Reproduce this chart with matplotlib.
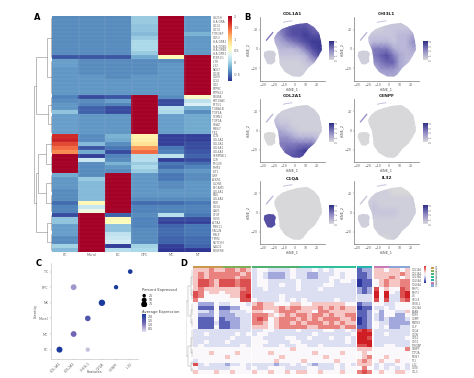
import numpy as np
import matplotlib
matplotlib.use("Agg")
import matplotlib.pyplot as plt
from matplotlib.colors import LinearSegmentedColormap
from matplotlib.patches import Polygon

W, H = 474, 378

# panel A
a_cols = ["FC", "Mural", "EC", "OPC", "MC", "NT"]
a_rows = ["CH25H", "HLA-DRA", "CD14", "CD74", "TYROBP", "CD53", "HLA-DPA1", "HLA-DQB1", "HLA-DRB1", "HLA-DPB1",
          "FCER1G", "IL7R", "IL32", "NKG7", "CD3E", "CD69", "CCL5", "CD2", "PTPRC", "PTPN22",
          "PDGFA", "KRT18AC", "PTTG1", "TUBA1B", "TOP2A", "STMN1", "TOP2A", "H2AZ", "MKI67", "TK1",
          "DCN", "COL1A2", "COL3A1", "COL5A1", "COL6A3", "SERPINE1", "C1R", "PTGDS", "MMP2", "FLT1",
          "VWF", "ACKR1", "CLDN5", "PECAM1", "COL4A1", "ENG", "COL4A2", "KDR", "CD34", "CAV1",
          "CTGF", "RGS5", "ACTA2", "MYH11", "TAGLN", "MYL9", "TPM2", "NOTCH3", "CALD1", "PDGFRB"]
a_vals = [
    [-.4, -.4, -.4, -.05, 2, -.35], [-.4, -.4, -.4, -.05, 2, -.35], [-.4, -.4, -.4, -.1, 2, -.35],
    [-.4, -.4, -.4, -.1, 2, -.35], [-.4, -.4, -.4, -.15, 2, -.2], [-.4, -.4, -.4, -.05, 2, -.35],
    [-.4, -.4, -.4, .05, 2, -.35], [-.4, -.4, -.4, .05, 2, -.35], [-.4, -.4, -.4, .05, 2, -.35],
    [-.4, -.4, -.4, -.05, 2, -.35], [-.65, -.65, -.65, -.25, .65, 2],
    [-.3, -.4, -.4, -.4, -.4, 2], [-.3, -.4, -.4, -.4, -.35, 2], [-.35, -.4, -.4, -.4, -.35, 2],
    [-.35, -.4, -.4, -.4, -.35, 2], [-.35, -.35, -.4, -.35, -.35, 2], [-.35, -.35, -.35, -.35, -.35, 2],
    [-.35, -.35, -.35, -.35, -.35, 2], [-.35, -.35, -.35, -.35, -.35, 2], [-.35, -.35, -.35, -.35, -.35, 2],
    [-.45, -.7, -.65, 2, -.4, .55], [-.4, -.4, -.3, 2, -.7, .15], [-.35, -.45, -.45, 2, -.7, .3],
    [-.35, -.6, -.7, 2, .1, -.2], [-.1, -.6, -.7, 2, .05, -.4], [-.3, -.35, -.35, 2, -.3, -.25],
    [-.3, -.35, -.35, 2, -.3, -.25], [-.3, -.35, -.35, 2, -.3, -.25], [-.3, -.35, -.35, 2, -.3, -.25],
    [-.3, -.35, -.35, 2, -.3, -.25],
    [1.75, -.4, -.2, .7, -.75, -.75], [1.8, -.4, -.25, .75, -.75, -.75], [1.6, -.15, -.4, .85, -.75, -.7],
    [1.45, -.65, -.5, 1.25, -.5, -.7], [1.3, -.25, -.7, 1.45, -.45, -.65],
    [2, -.75, -.45, .1, .15, -.6], [2, .2, -.4, .1, -.75, -.7], [2, -.4, -.2, -.05, -.5, -.55],
    [2, -.4, -.35, .05, -.55, -.45], [2, -.4, -.4, -.05, -.4, -.35],
    [-.25, -.4, 2, -.35, -.5, -.4], [-.35, -.05, 2, -.35, -.5, -.4], [-.35, -.15, 2, -.35, -.4, -.35],
    [-.35, -.15, 2, -.35, -.4, -.35], [-.4, -.15, 2, -.35, -.35, -.35], [-.4, -.15, 2, -.35, -.35, -.35],
    [-.4, -.15, 2, -.4, -.4, -.4], [-.55, .65, 2, -.55, -.55, -.5], [-.45, .2, 2, -.45, -.45, -.45],
    [-.45, .45, 2, -.45, -.45, -.45],
    [-.7, 2, -.6, -.4, .1, -.5], [-.1, 2, .65, -.45, -.7, -.7], [-.1, 2, .6, -.45, -.75, -.75],
    [-.3, 2, -.1, -.45, -.6, -.5], [-.3, 2, -.1, -.4, -.55, -.5], [-.3, 2, .15, -.4, -.55, -.5],
    [-.4, 2, .2, -.4, -.6, -.55], [-.4, 2, .25, -.4, -.6, -.55], [0, 2, -.75, 0, -.75, -.6],
    [-.15, 2, .1, .05, -.8, -.8]]
a_ticks = [2, 1.5, 1, 0.5, 0, -0.5]
# nested row clusters: (height, left, right), a pair of ints is a block of rows
a_tree = (1.0, (.88, (.3, (0, 10), (11, 19)), (.2, (20, 24), (25, 29))),
          (.88, (.8, (.35, (30, 34), (35, 39)), (.35, (40, 44), (45, 49))), (.3, (50, 54), (55, 59))))

# panel B
b_genes = ["COL1A1", "CHI3L1", "COL2A1", "CENPF", "C1QA", "IL32"]
b_xgrid = [-20, -14, -8, -2, 4, 10, 16, 22, 28]
b_ygrid = [28, 21, 14, 7, 0, -7, -14, -21, -28]
b_expr = {
    "COL1A1": ["366777666", "367888766", "457889888", "345678999", "233346899",
               "122223688", "111112344", "111111111", "111111111"],
    "CHI3L1": ["111222222", "111222222", "222223345", "233323356", "466643344",
               "467864333", "356774322", "235554322", "223443222"],
    "COL2A1": ["111111111", "111111111", "211111111", "322111111", "443211111",
               "455433321", "466666642", "357789962", "367888762"],
    "CENPF": ["000000000", "000000000", "000000000", "000000000", "000000000",
              "000000000", "000000000", "000000000", "000000000"],
    "C1QA": ["000000000", "000000000", "000000000", "000000000", "000000000",
             "000000000", "000000000", "000000000", "000000000"],
    "IL32": ["000000000", "011100000", "111111110", "121111111", "122221111",
             "111111111", "011111111", "001111110", "000011000"]}
b_small_expr = [1, 1, 0, 0, 8, 1]
b_streak_expr = [6, 3, 3, 5, 3, 2]
main_outline = [(-20.3, 11.5), (-17.2, 16.7), (-12.5, 20.2), (-4.7, 23.7), (3.1, 25.4), (10.9, 26.5), (17.8, 23),
                (21.9, 16.7), (24.4, 8), (25, -.7), (21.9, -5.9), (18.8, -12.9), (12.5, -19.9), (7.8, -26.8),
                (3.1, -29.6), (-3.1, -27.9), (-9.4, -23.3), (-14, -16.4), (-15.6, -7.7), (-16.3, -.7), (-18.8, 6.3)]
small_outline = [(-29, -3), (-25, -1.5), (-20, -2), (-18, -5), (-19, -9), (-18.5, -13), (-22, -16), (-26, -15.5),
                 (-28, -11), (-29.5, -7)]
streak_x = [-27, -24, -21]
streak_y = [9, 13, 17]
top_streak_x = [-11, -7, -3]
top_streak_y = [27.5, 28.5, 29]

# panel C
c_features = ["COL1A1", "COL2A1", "CHI3L1", "C1QA", "CENPF", "IL32"]
c_ident = ["FC", "MC", "Mural", "NK", "EPC", "TC"]
c_x = [0, 1, 1, 2, 2, 3, 4, 5]
c_y = [0, 1, 4, 0, 2, 3, 4, 5]
c_pct = [75, 70, 70, 40, 65, 85, 40, 45]
c_avg = [2.3, 1.2, .7, .3, 1.6, 2.3, 2.3, 2.3]
c_pct_legend = [25, 50, 75]
c_avg_ticks = [2.0, 1.5, 1.0, 0.5]

# panel D, one digit per cell (4 = white), gaps between the four groups
d_rows = ["COL1A1", "COL1A2", "COL3A1", "COL5A1", "COL6A1", "MMP1", "MMP3", "IL6", "CXCL8",
          "CHI3L1", "COL2A1", "ACAN", "SOX9", "COMP", "MATN3", "CILP", "C1QA", "C1QB", "CD14",
          "CD74", "TYROBP", "CENPF", "TOP2A", "MKI67", "TK1", "IL32", "CD3E", "CCL5"]
d_cells = [
    "55565566565 3443333433343434444 122 5545545",
    "56566666656 3432223433223334344 112 5555565",
    "56566666566 3432223433223344344 112 5556545",
    "57765777677 3443333343333343443 011 4565566",
    "57765777677 3443343343333443333 011 4565566",
    "56555555567 3343333343334333333 212 7454476",
    "76455455577 3333333333333333333 212 8484378",
    "76444445578 3333343333333333333 333 8483378",
    "64444444477 4333343434333334333 333 7473367",
    "42224334443 5655444554455555544 122 4433444",
    "41114112244 6655565665556565655 011 3343444",
    "43324223334 5544566655546655555 112 4244335",
    "42224222333 6665456566566565566 112 3244224",
    "41114122233 6764566656565666556 012 3232223",
    "41113112233 6654566565666565655 012 4332222",
    "41114112233 5554566666556666566 112 4342233",
    "33333333333 3344333343333443343 787 3333333",
    "33433333434 3443333333343333334 888 3343333",
    "33333334333 4433334433433343343 887 3333334",
    "33433343333 4443333443333333343 888 3333333",
    "34333333343 4433343344334333333 778 3344333",
    "44444444444 4444444544444444444 555 4444446",
    "44454444544 4445444444454444544 454 4444444",
    "44444454444 4444454444444544444 456 4454444",
    "34444444444 4444544445444445444 565 4544544",
    "73433323343 3333233434323334343 555 3433443",
    "43333334443 4334443333443334344 464 3434343",
    "54445445444 5445445455445444544 676 4544554"]
d_tree = (1.0, (.7, (.3, (0, 4), (5, 8)), (.3, (9, 12), (13, 15))), (.8, (.3, (16, 20), (21, 23)), (.3, (24, 25), (26, 27))))
d_legend_colors = ["#c99a4c", "#7fae58", "#4fb06f", "#2fbf9b", "#22b5b0", "#c77ab5", "#8aa5d8"]
d_legend_names = ["C1", "C2", "C3", "C4", "C5", "C6", "C7"]

fig = plt.figure(figsize=(W / 100, H / 100), dpi=100)


def ax_px(l, t, r, b):
    return fig.add_axes([l / W, 1 - b / H, (r - l) / W, (b - t) / H])


def draw_tree(ax, node, lw=.4, col="#8a8a8a"):
    # returns the y of this node, x is the height
    if len(node) == 2:
        mid = (node[0] + node[1] + 1) / 2
        ax.plot([.08, .08], [node[0] + .5, node[1] + .5], color=col, lw=lw)
        ax.plot([.08, 0], [mid, mid], color=col, lw=lw * .6)
        return mid, .08
    y1, h1 = draw_tree(ax, node[1], lw, col)
    y2, h2 = draw_tree(ax, node[2], lw, col)
    ax.plot([h1, node[0], node[0], h2], [y1, y1, y2, y2], color=col, lw=lw)
    return (y1 + y2) / 2, node[0]


for lab, x, y in [("A", 37, 17), ("B", 247, 17), ("C", 39, 263), ("D", 184, 263)]:
    fig.text(x / W, 1 - y / H, lab, fontsize=6, fontweight="bold", ha="center", va="center")

# A heatmap
ax = ax_px(52, 16, 211, 252)
ax.imshow(np.array(a_vals), cmap="RdYlBu_r", vmin=-.8, vmax=2, aspect="auto", interpolation="nearest",
          extent=[0, 6, 60, 0])
ax.vlines(range(1, 6), 0, 60, color="#9fb6cf", lw=.25, alpha=.6)
ax.hlines(range(1, 60), 0, 6, color="#ffffff", lw=.15, alpha=.25)
ax.set_xticks(np.arange(6) + .5, a_cols, fontsize=2.5, color="#666666")
ax.yaxis.tick_right()
ax.set_yticks(np.arange(60) + .5, a_rows, fontsize=2.1, color="#666666")
ax.tick_params(length=0, pad=1)
for s in ax.spines.values():
    s.set_visible(False)

ax = ax_px(33, 16, 52, 252)
draw_tree(ax, a_tree)
ax.set_xlim(1.05, 0)
ax.set_ylim(60, 0)
ax.axis("off")

ax = ax_px(228, 16, 232, 81)
ax.imshow(np.linspace(2, -.8, 100)[:, None], cmap="RdYlBu_r", aspect="auto", extent=[0, 1, -.8, 2], vmin=-.8, vmax=2)
ax.set_xticks([])
ax.yaxis.tick_right()
ax.set_yticks(a_ticks, [str(t) for t in a_ticks], fontsize=2.5, color="#666666")
ax.tick_params(length=0, pad=1)
for s in ax.spines.values():
    s.set_visible(False)

# B feature plots
feat = LinearSegmentedColormap.from_list("feat", ["#d8d8da", "#c4c2dc", "#a5a1cf", "#6f68b4", "#3f3c96"])
bar_cmap = LinearSegmentedColormap.from_list("bar", ["#d8d8da", "#8f89c4", "#2f2f86"])
lefts = [260, 354]
rows_px = [(17, 81), (99, 162), (181, 244)]
for i, gene in enumerate(b_genes):
    l = lefts[i % 2]
    t, b = rows_px[i // 2]
    ax = ax_px(l, t, l + 65, b)
    z = np.array([[int(c) for c in s] for s in b_expr[gene]], dtype=float)
    mesh = ax.pcolormesh(b_xgrid, b_ygrid, z, cmap=feat, vmin=0, vmax=9, shading="gouraud", rasterized=True)
    clip = Polygon(main_outline, closed=True, transform=ax.transData, fc="none", ec="none")
    ax.add_patch(clip)
    mesh.set_clip_path(clip)
    ax.add_patch(Polygon(small_outline, closed=True, fc=feat(b_small_expr[i] / 9), ec="none"))
    ax.plot(streak_x, streak_y, color=feat(b_streak_expr[i] / 9), lw=1, solid_capstyle="round")
    ax.plot(top_streak_x, top_streak_y, color=feat(3 / 9), lw=.6)
    ax.set_xlim(-33, 28)
    ax.set_ylim(-33, 33)
    ax.set_xticks([-30, -20, -10, 0, 10, 20])
    ax.set_yticks([-20, 0, 20])
    ax.tick_params(labelsize=2.3, length=.8, width=.3, pad=.6, colors="#666666")
    ax.set_xlabel("tSNE_1", fontsize=2.6, labelpad=.4, color="#555555")
    ax.set_ylabel("tSNE_2", fontsize=2.6, labelpad=.4, color="#555555")
    ax.set_title(gene, fontsize=3.2, fontweight="bold", pad=1.2, color="#222222")
    for s in ["top", "right"]:
        ax.spines[s].set_visible(False)
    for s in ["left", "bottom"]:
        ax.spines[s].set_linewidth(.5)
        ax.spines[s].set_color("#777777")
    cb = ax_px(l + 69, t + 24, l + 74, t + 43)
    cb.imshow(np.linspace(9, 0, 50)[:, None], cmap=bar_cmap, aspect="auto", extent=[0, 1, 0, 4], vmin=0, vmax=9)
    cb.set_xticks([])
    cb.yaxis.tick_right()
    cb.set_yticks([0, 1, 2, 3, 4], ["0", "1", "2", "3", "4"], fontsize=2, rotation=90, va="center", color="#666666")
    cb.tick_params(length=0, pad=.6)
    for s in cb.spines.values():
        s.set_visible(False)

# C dot plot
dots = LinearSegmentedColormap.from_list("dots", ["#e4e0f0", "#7468b4", "#1a3a9c"])
ax = ax_px(51, 263, 138, 359)
ax.scatter(c_x, c_y, s=np.array(c_pct) * .25, c=c_avg, cmap=dots, vmin=0, vmax=2.3, linewidths=0)
ax.set_xlim(-.6, 5.55)
ax.set_ylim(-.6, 5.55)
ax.set_xticks(range(6), c_features, fontsize=2.4, rotation=45, ha="right", rotation_mode="anchor", color="#666666")
ax.set_yticks(range(6), c_ident, fontsize=2.4, color="#666666")
ax.tick_params(length=1, width=.3, pad=1, color="#888888")
ax.set_ylabel("Identity", fontsize=2.6, labelpad=1, color="#555555")
fig.text(94 / W, 1 - 372 / H, "Features", fontsize=2.6, ha="center", va="center", color="#555555")
for s in ["top", "right"]:
    ax.spines[s].set_visible(False)
for s in ["left", "bottom"]:
    ax.spines[s].set_linewidth(.4)
    ax.spines[s].set_color("#bbbbbb")

fig.text(142 / W, 1 - 290.5 / H, "Percent Expressed", fontsize=2.7, va="center", color="#444444")
ax = ax_px(141, 293, 160, 307)
ax.scatter([0] * 3, [2, 1, 0], s=np.array(c_pct_legend) * .25, c="k", linewidths=0)
for n, p in enumerate(c_pct_legend):
    ax.text(.9, 2 - n, str(p), fontsize=2.3, va="center", color="#444444")
ax.set_xlim(-.6, 3)
ax.set_ylim(-.6, 2.6)
ax.axis("off")
fig.text(142 / W, 1 - 312 / H, "Average Expression", fontsize=2.7, va="center", color="#444444")
ax = ax_px(142, 314, 146, 332)
ax.imshow(np.linspace(2.3, 0, 50)[:, None], cmap=dots, aspect="auto", extent=[0, 1, 0, 2.3], vmin=0, vmax=2.3)
ax.set_xticks([])
ax.yaxis.tick_right()
ax.set_yticks(c_avg_ticks, [str(t) for t in c_avg_ticks], fontsize=2.3, color="#444444")
ax.tick_params(length=0, pad=1)
for s in ax.spines.values():
    s.set_visible(False)

# D heatmap
div = LinearSegmentedColormap.from_list("div", [(0, "#2b359c"), (.125, "#5a62b8"), (.25, "#a3a8dc"), (.375, "#dcdff2"),
                                                (.5, "#fbf9fb"), (.625, "#f6c8c6"), (.75, "#ea8380"), (1, "#cf1f25")])
groups = np.array([r.split() for r in d_cells])
seg_px = [(193, 251), (252, 356), (357, 372), (374, 410)]
ann = [[(0, .52, 0), (.52, 1, 1)], [(0, .46, 2), (.46, 1, 3)], [(0, 1, 4)], [(0, .42, 5), (.42, 1, 6)]]
for g, (l, r) in enumerate(seg_px):
    ax = ax_px(l, 268, r, 374)
    z = np.array([[int(c) for c in s] for s in groups[:, g]])
    ax.imshow(z, cmap=div, vmin=0, vmax=8, aspect="auto", interpolation="nearest")
    ax.axis("off")
    top = ax_px(l, 266, r, 268)
    for x0, x1, c in ann[g]:
        top.axvspan(x0, x1, color=d_legend_colors[c], lw=0)
    top.set_xlim(0, 1)
    top.axis("off")

ax = ax_px(186, 268, 193, 374)
draw_tree(ax, d_tree, lw=.3, col="#999999")
ax.set_xlim(1.05, 0)
ax.set_ylim(28, 0)
ax.axis("off")

for n, name in enumerate(d_rows):
    fig.text(411.5 / W, 1 - (268 + (n + .5) * 106 / 28) / H, name, fontsize=1.9, va="center", color="#666666")

ax = ax_px(424, 266, 426, 283)
ax.imshow(np.linspace(8, 0, 50)[:, None], cmap=div, aspect="auto", vmin=0, vmax=8)
ax.axis("off")
for n, (c, name) in enumerate(zip(d_legend_colors, d_legend_names)):
    y = 267 + n * 2.9
    fig.patches.append(plt.Rectangle((431 / W, 1 - (y + 2.4) / H), 3 / W, 2.4 / H, fc=c, ec="none",
                                     transform=fig.transFigure))
    fig.text(435 / W, 1 - (y + 1.2) / H, name, fontsize=1.9, va="center", color="#666666")

fig.savefig("out.png", dpi=100)
